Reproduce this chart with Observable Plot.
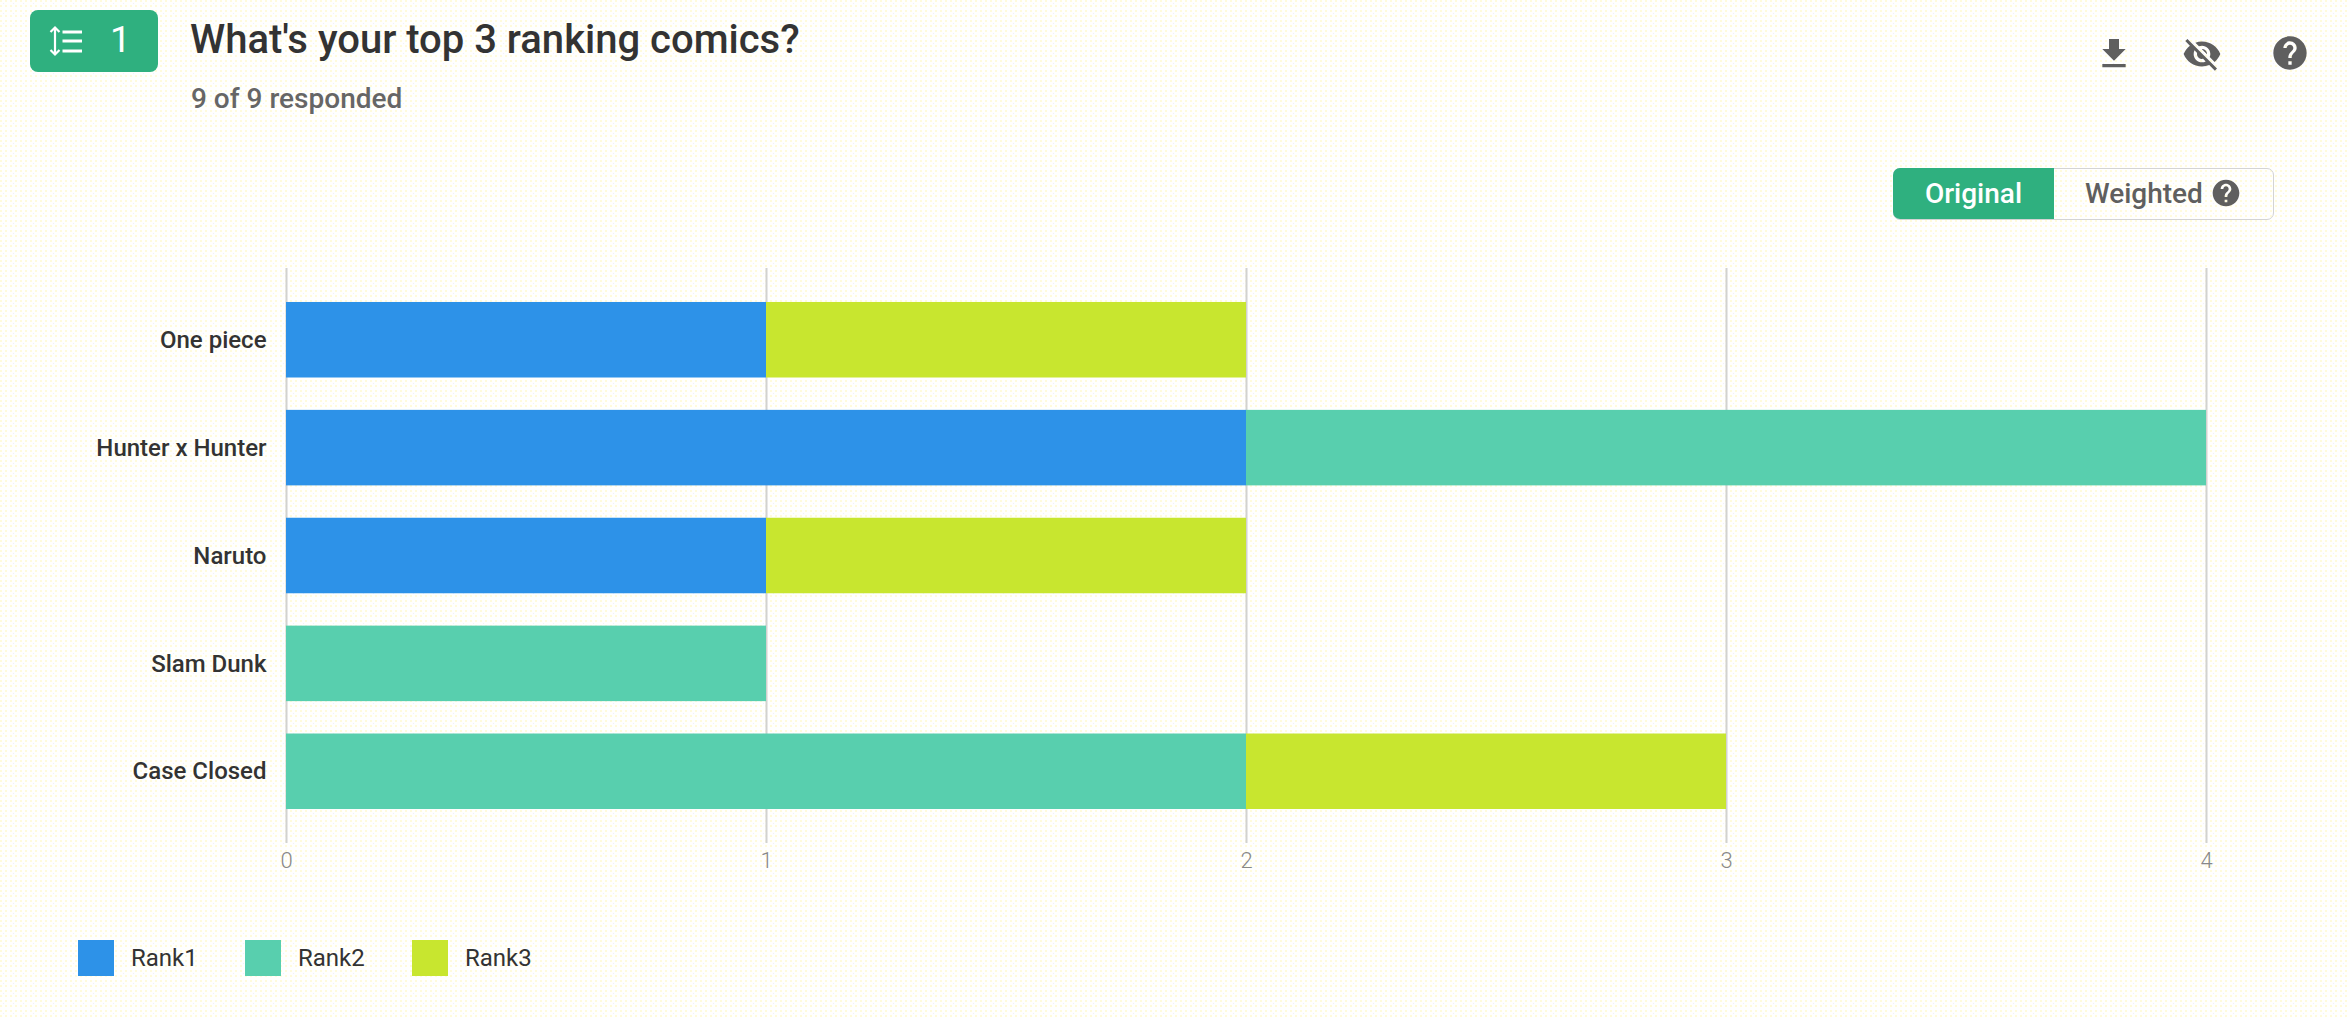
<!DOCTYPE html>
<html>
<head>
<meta charset="utf-8">
<script src="https://cdn.jsdelivr.net/npm/d3@7"></script>
<script src="https://cdn.jsdelivr.net/npm/@observablehq/plot@0.6"></script>
<style>
html,body{margin:0;padding:0;width:2350px;height:1018px;overflow:hidden;font-family:Roboto,sans-serif;}
body{position:relative;background-color:#fffffe;
background-image:radial-gradient(circle at 1px 1px,#fffbdc 0.8px,transparent 1px),radial-gradient(circle at 3.5px 3.5px,#f1effb 0.7px,transparent 0.9px);
background-size:5px 5px,10px 10px;}
.abs{position:absolute;white-space:nowrap;}
#chart{position:absolute;left:0;top:248px;}
#legend{position:absolute;left:78px;top:940px;}
#legend [class$="-swatches"]{margin:0;min-height:0;display:flex;}
#legend [class$="-swatch"]{margin:0 0 0 0;width:167px;display:inline-flex;align-items:center;}
#legend [class$="-swatch"] svg{margin-right:17px;}
</style>
</head>
<body>
<div class="abs" style="left:30px;top:10px;width:128px;height:62px;background:#2fb07f;border-radius:8px;"></div>
<svg class="abs" style="left:46px;top:22px;" width="46" height="36" viewBox="0 0 46 36" fill="none" stroke="#fff" stroke-width="2.200">
<path d="M9 6V32"/><path d="M4.500 10L9 5.500L13.500 10M4.500 28L9 32.500L13.500 28"/><path d="M16.500 10H36M16.500 19H36M16.500 29H36" stroke-width="3"/>
</svg>
<div class="abs" id="badge" style="left:110px;top:18px;font-size:37px;line-height:44px;color:#fff;font-weight:400;">1</div>
<div class="abs" id="title" style="left:190px;top:16px;font-size:40px;line-height:48px;font-weight:500;color:#333;">What's your top 3 ranking comics?</div>
<div class="abs" id="sub" style="left:191px;top:83px;font-size:28px;line-height:32px;font-weight:500;color:#666;">9 of 9 responded</div>

<svg class="abs" style="left:2094px;top:34px;" width="40" height="40" viewBox="0 0 24 24" fill="#5f5f5f"><path d="M19 9h-4V3H9v6H5l7 7 7-7zM5 18v2h14v-2H5z"/></svg>
<svg class="abs" style="left:2182px;top:34px;" width="40" height="40" viewBox="0 0 24 24" fill="#5f5f5f"><path d="M12 7c2.760 0 5 2.240 5 5 0 .65-.13 1.260-.36 1.830l2.920 2.920c1.510-1.260 2.700-2.890 3.430-4.750-1.730-4.390-6-7.500-11-7.500-1.400 0-2.740.25-3.980.7l2.160 2.160C10.740 7.130 11.350 7 12 7zM2 4.270l2.280 2.280.46.46C3.080 8.300 1.780 10.020 1 12c1.730 4.390 6 7.500 11 7.500 1.550 0 3.030-.3 4.380-.84l.42.42L19.730 22 21 20.730 3.270 3 2 4.270zM7.530 9.800l1.550 1.550c-.05.21-.08.43-.08.65 0 1.660 1.340 3 3 3 .22 0 .44-.03.65-.08l1.550 1.550c-.67.33-1.410.53-2.200.53-2.760 0-5-2.240-5-5 0-.79.2-1.530.53-2.200zm4.310-.78l3.150 3.150.02-.16c0-1.660-1.340-3-3-3l-.17.01z"/></svg>
<svg class="abs" style="left:2270px;top:33px;" width="40" height="40" viewBox="0 0 24 24" fill="#5f5f5f"><path d="M12 2C6.480 2 2 6.480 2 12s4.480 10 10 10 10-4.480 10-10S17.520 2 12 2zm1 17h-2v-2h2v2zm2.070-7.750l-.9.92C13.450 12.900 13 13.500 13 15h-2v-.5c0-1.100.45-2.100 1.170-2.830l1.240-1.260c.37-.36.59-.86.59-1.410 0-1.100-.9-2-2-2s-2 .9-2 2H8c0-2.210 1.790-4 4-4s4 1.790 4 4c0 .88-.36 1.680-.93 2.250z"/></svg>

<div class="abs" style="left:1893px;top:168px;width:379px;height:50px;border:1.500px solid #d4d4d4;border-radius:7px;box-sizing:content-box;"></div>
<div class="abs" style="left:1893px;top:168px;width:161px;height:51px;background:#2fb07f;border-radius:7px 0 0 7px;color:#fff;font-size:28px;line-height:51px;text-align:center;font-weight:500;">Original</div>
<div class="abs" id="wt" style="left:2085px;top:168px;font-size:28px;line-height:51px;font-weight:500;color:#5f5f5f;">Weighted</div>
<svg class="abs" style="left:2210px;top:177px;" width="32" height="32" viewBox="0 0 24 24" fill="#5f5f5f"><path d="M12 2C6.480 2 2 6.480 2 12s4.480 10 10 10 10-4.480 10-10S17.520 2 12 2zm1 17h-2v-2h2v2zm2.070-7.750l-.9.92C13.450 12.900 13 13.500 13 15h-2v-.5c0-1.100.45-2.100 1.170-2.830l1.240-1.260c.37-.36.59-.86.59-1.410 0-1.100-.9-2-2-2s-2 .9-2 2H8c0-2.210 1.790-4 4-4s4 1.790 4 4c0 .88-.36 1.680-.93 2.250z"/></svg>

<div id="chart"></div>
<div id="legend"></div>

<script>
const categories = ["One piece", "Hunter x Hunter", "Naruto", "Slam Dunk", "Case Closed"];
const ranks = ["Rank1", "Rank2", "Rank3"];
const rank1 = [1, 2, 1, 0, 0];
const rank2 = [0, 2, 0, 1, 2];
const rank3 = [1, 0, 1, 0, 1];
const colors = ["#2d92e8", "#58cfae", "#c8e62f"];
const xTicks = [0, 1, 2, 3, 4];

const series = [rank1, rank2, rank3];
const rows = ranks.flatMap((r, i) => categories.map((c, j) => ({category: c, rank: r, value: series[i][j]})));

const plot = Plot.plot({
  width: 2350,
  height: 680,
  marginTop: 20,
  marginBottom: 85,
  marginLeft: 286,
  marginRight: 144,
  style: {background: "transparent", fontFamily: "Roboto, sans-serif"},
  x: {domain: [0, 4], ticks: xTicks, label: null},
  y: {domain: categories, label: null, paddingInner: 0.3, paddingOuter: 0.315, round: false},
  color: {domain: ranks, range: colors},
  marks: [
    Plot.gridX(xTicks, {stroke: "#d2d2d0", strokeOpacity: 1, strokeWidth: 2}),
    Plot.barX(rows, Plot.stackX({x: "value", y: "category", fill: "rank", order: ranks})),
    Plot.axisX({ticks: xTicks, tickSize: 0, tickPadding: 9, label: null, fontSize: 22, fontWeight: 300, fill: "#888", tickFormat: d => String(d)}),
    Plot.axisY({tickSize: 0, tickPadding: 20, label: null, fontSize: 24, fontWeight: 500, fill: "#333"})
  ]
});
document.getElementById("chart").appendChild(plot);

const legend = Plot.legend({
  color: {domain: ranks, range: colors},
  legend: "swatches",
  swatchWidth: 36,
  swatchHeight: 36,
  style: {fontFamily: "Roboto, sans-serif", fontSize: "24px", color: "#333", fontWeight: 400, background: "transparent"}
});
document.getElementById("legend").appendChild(legend);
</script>
</body>
</html>
